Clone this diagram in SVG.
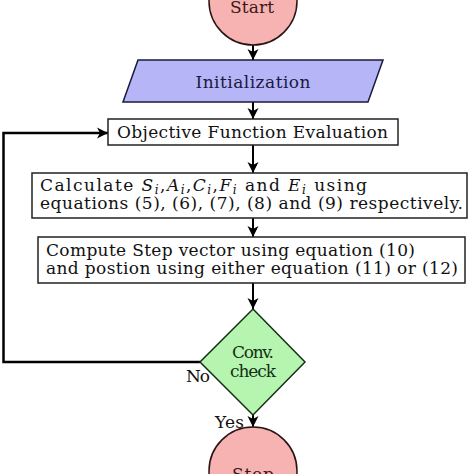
<svg xmlns="http://www.w3.org/2000/svg" width="474" height="474" viewBox="0 0 474 474">
<defs>
<marker id="arr" markerWidth="12" markerHeight="12" viewBox="0 0 12 12" refX="11" refY="6" orient="auto" markerUnits="userSpaceOnUse">
<path d="M0,0.5 L11,6 L0,11.5 L3,6 Z" fill="#000"/>
</marker>
<style>
.t{font-family:"DejaVu Serif","Liberation Serif",serif;font-size:17px;fill:#111}
.box{fill:#fff;stroke:#222;stroke-width:1.5}
.term{fill:#f7b3b1;stroke:#2a1414;stroke-width:1.5}
.io{fill:#b5b5f7;stroke:#1a1a3a;stroke-width:1.5}
.dec{fill:#b5f5b0;stroke:#143014;stroke-width:1.5}
.c{stroke:#000;stroke-width:2;fill:none;marker-end:url(#arr)}
.m{font-style:italic}
.s{font-style:italic;font-size:12px}
</style>
</defs>
<g id="connectors">
<line class="c" x1="253" y1="45" x2="253" y2="60"/>
<line class="c" x1="253" y1="102" x2="253" y2="119"/>
<line class="c" x1="253" y1="145" x2="253" y2="173"/>
<line class="c" x1="253" y1="218" x2="253" y2="237"/>
<line class="c" x1="253" y1="283" x2="253" y2="309"/>
<line class="c" x1="253" y1="415" x2="253" y2="427"/>
<polyline class="c" style="stroke-width:2.5" points="200,362 3.5,362 3.5,133 108,133"/>
</g>
<g id="start">
<circle class="term" cx="253" cy="1" r="44"/>
<text class="t" x="252" y="13" text-anchor="middle" textLength="44" style="fill:#3a1a1a">Start</text>
</g>
<g id="init">
<polygon class="io" points="138,60 383,60 368,102 123,102"/>
<text class="t" x="253" y="88" text-anchor="middle" textLength="115" style="fill:#1a1a40">Initialization</text>
</g>
<g id="objective">
<rect class="box" x="108" y="119" width="290" height="26"/>
<text class="t" x="117" y="138" textLength="271">Objective Function Evaluation</text>
</g>
<g id="calculate">
<rect class="box" x="32" y="173" width="435" height="45"/>
<text class="t" x="40" y="191" textLength="327">Calculate <tspan class="m">S</tspan><tspan class="s" dy="3">i</tspan><tspan dy="-3">,</tspan><tspan class="m">A</tspan><tspan class="s" dy="3">i</tspan><tspan dy="-3">,</tspan><tspan class="m">C</tspan><tspan class="s" dy="3">i</tspan><tspan dy="-3">,</tspan><tspan class="m">F</tspan><tspan class="s" dy="3">i</tspan><tspan dy="-3"> and </tspan><tspan class="m">E</tspan><tspan class="s" dy="3">i</tspan><tspan dy="-3"> using</tspan></text>
<text class="t" x="40" y="209" textLength="423">equations (5), (6), (7), (8) and (9) respectively.</text>
</g>
<g id="compute">
<rect class="box" x="38" y="237" width="427" height="46"/>
<text class="t" x="46" y="256" textLength="369">Compute Step vector using equation (10)</text>
<text class="t" x="46" y="274" textLength="412">and postion using either equation (11) or (12)</text>
</g>
<g id="check">
<polygon class="dec" points="253,309 305,362 253,415 200,362"/>
<text class="t" x="253" y="358" text-anchor="middle" textLength="42" style="fill:#143014">Conv.</text>
<text class="t" x="253" y="377" text-anchor="middle" textLength="46" style="fill:#143014">check</text>
</g>
<g id="labels">
<text class="t" x="186" y="382" textLength="24">No</text>
<text class="t" x="215" y="428" textLength="29">Yes</text>
</g>
<g id="stop">
<circle class="term" cx="253" cy="471" r="44"/>
<text class="t" x="253" y="480" text-anchor="middle" textLength="42" style="fill:#3a1a1a">Stop</text>
</g>
</svg>
